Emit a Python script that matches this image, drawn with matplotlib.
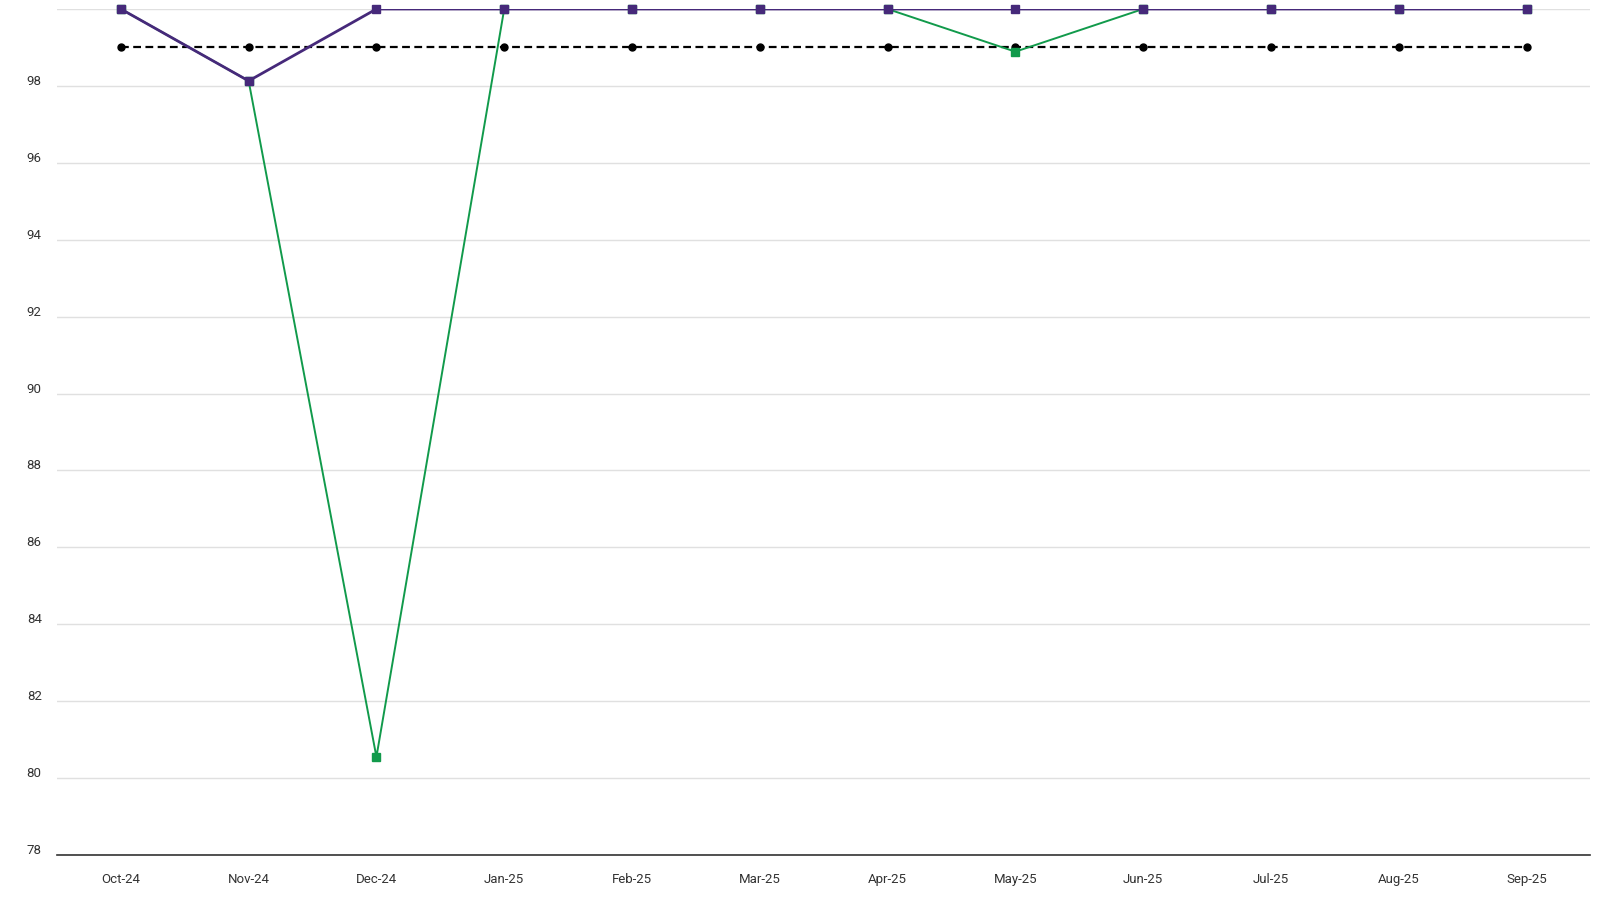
import numpy as np
import matplotlib.pyplot as plt
from matplotlib.transforms import ScaledTranslation

plt.rcParams['font.family'] = ['Roboto', 'DejaVu Sans']

months = ['Oct-24', 'Nov-24', 'Dec-24', 'Jan-25', 'Feb-25', 'Mar-25',
          'Apr-25', 'May-25', 'Jun-25', 'Jul-25', 'Aug-25', 'Sep-25']

green_vals = [100, 98.13, 80.55, 100, 100, 100, 100, 98.89, 100, 100, 100, 100]
purple_vals = [100, 98.13, 100, 100, 100, 100, 100, 100, 100, 100, 100, 100]
target_vals = [99] * 12

purple = '#46297a'
green = '#119a4b'

fig = plt.figure(figsize=(16, 9), dpi=100)
ax = fig.add_axes([0.0356, 0.05, 0.9584, 0.94])

x = np.arange(len(months))

# lines are clipped at the top of the axes, markers are not
ax.plot(x, target_vals, color='black', lw=1.6, ls=(0, (3.5, 2)), zorder=3)
ax.plot(x, target_vals, ls='none', color='black', marker='o', ms=5,
        zorder=3, clip_on=False)
ax.plot(x, green_vals, color=green, lw=1.4, zorder=4)
ax.plot(x, green_vals, ls='none', color=green, marker='s', ms=5.5,
        zorder=4, clip_on=False)
ax.plot(x, purple_vals, color=purple, lw=2.0, zorder=5)
ax.plot(x, purple_vals, ls='none', color=purple, marker='s', ms=5.5,
        zorder=5, clip_on=False)

ax.set_xlim(-0.5, 11.5)
ax.set_ylim(78, 100)
ax.set_xticks(x)
ax.set_xticklabels(months)
yt = list(range(78, 101, 2))
ax.set_yticks(yt)
ax.set_yticklabels([str(v) if v < 100 else '' for v in yt])

ax.grid(axis='y', color='#e0e0e0', lw=1)
ax.set_axisbelow(True)
for s in ['top', 'right', 'left']:
    ax.spines[s].set_visible(False)
ax.spines['bottom'].set_color('#333333')
ax.spines['bottom'].set_linewidth(1.2)

ax.tick_params(axis='both', length=0, labelsize=9.5, labelcolor='#333333')
ax.tick_params(axis='x', pad=13)
ax.tick_params(axis='y', pad=11)

for lab in ax.get_yticklabels():
    lab.set_transform(lab.get_transform() +
                      ScaledTranslation(0, 6 / 100, fig.dpi_scale_trans))

fig.savefig('out.png', dpi=100)
